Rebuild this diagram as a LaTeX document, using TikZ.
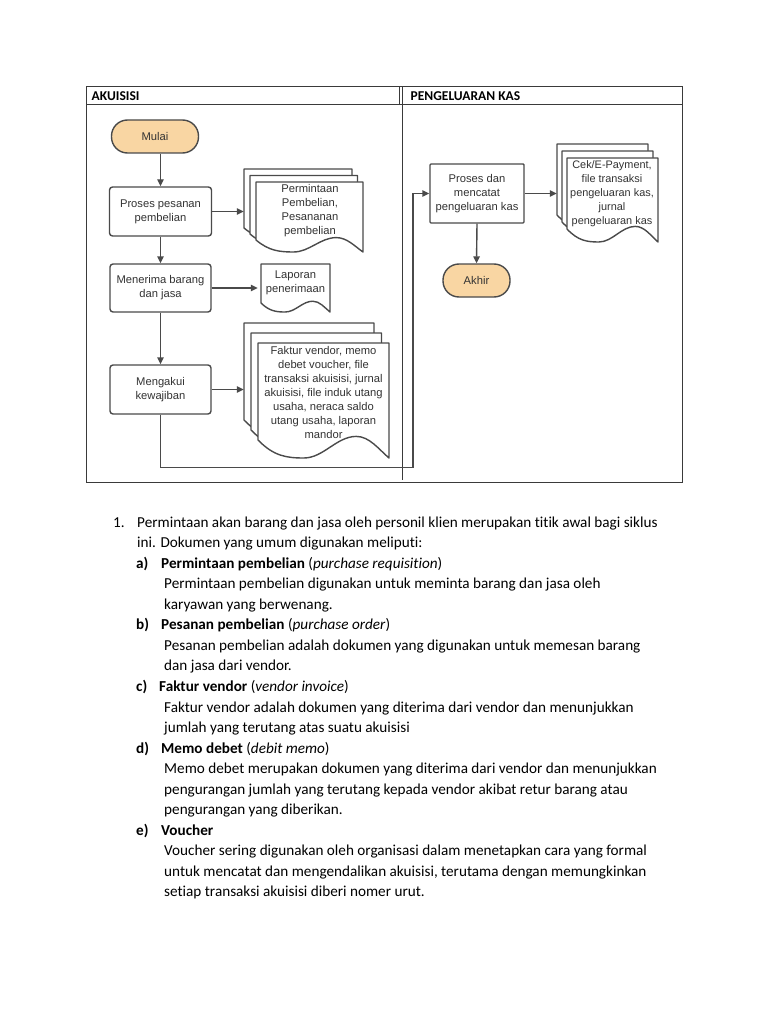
\documentclass[tikz,border=0pt]{standalone}
\usepackage{fontspec}
\setmainfont{Carlito}[Ligatures=NoCommon]
\newfontfamily\arialf{Liberation Sans}
\usetikzlibrary{arrows.meta}
\definecolor{ln}{HTML}{4A4A4A}
\definecolor{tx}{HTML}{333333}
\definecolor{termc}{HTML}{F9D6A3}
\definecolor{framec}{HTML}{3A3A3A}
\newcommand\docsheet[5]{% x1, ytop, x2, yL, d
  \pgfmathsetmacro\dw{#3-#1}
  \filldraw[docsh] (#1,#2) -- (#3,#2) -- (#3,#4+#5)
    .. controls (#1+0.92*\dw,#4+0.5*#5) and (#1+0.85*\dw,#4-0.2*#5) .. (#1+0.75*\dw,#4-0.2*#5)
    .. controls (#1+0.6*\dw,#4-0.2*#5) and (#1+0.5*\dw,#4+#5) .. (#1+0.35*\dw,#4+#5)
    .. controls (#1+0.22*\dw,#4+#5) and (#1+0.12*\dw,#4+0.9*#5) .. (#1,#4) -- cycle;
}
\tikzset{
  box/.style={draw=ln, line width=1.4pt, fill=white, rounded corners=3pt,
    font=\arialf\fontsize{11.2}{14}\selectfont, text=tx, align=center, inner sep=0pt},
  termbox/.style={box, fill=termc, rounded corners=16pt},
  docsh/.style={draw=ln, line width=1.4pt, fill=white, line join=round},
  doctext/.style={font=\arialf\fontsize{11.2}{14}\selectfont, text=tx, align=center, inner sep=0pt},
  inv/.style={draw=none, inner sep=0pt},
  arr/.style={draw=ln, line width=1.4pt, -{Triangle[length=7pt,width=6.5pt]}},
  body/.style={anchor=base west, inner sep=0pt, font=\fontsize{15.2}{18}\selectfont},
  hdr/.style={anchor=base west, inner sep=0pt, font=\bfseries\fontsize{13.5}{16}\selectfont},
  frm/.style={draw=framec, line width=1pt},
}
\begin{document}
\begin{tikzpicture}[x=1pt, y=-1pt]
\useasboundingbox[fill=white] (0,0) rectangle (768,1024);

% table frame
\draw[frm] (86,87) rectangle (682,482.5);
\draw[frm] (86,104.5) -- (682,104.5);
\draw[frm] (402,87) -- (402,480);
\draw[frm] (399.5,87) -- (399.5,104.5);
\node[hdr] (h1) at (91.5,100.5) {AKUISISI};
\node[hdr] (h2) at (410.5,100.5) {PENGELUARAN KAS};

% document stacks
\docsheet{244}{169}{352}{228}{12}
\docsheet{250}{175.5}{357.5}{234}{12}
\docsheet{256}{182}{363}{240}{12}
\node[inv, minimum width=108pt, minimum height=83pt] (st1) at (298,210.5) {};
\node[doctext] (t1) at (310,210.5) {Permintaan\\Pembelian,\\Pesananan\\pembelian};

\docsheet{261}{264}{330}{303}{9}
\node[inv, minimum width=69pt, minimum height=48pt] (lap) at (295.5,288) {};
\node[doctext] (t2) at (295.5,283) {Laporan\\penerimaan};

\docsheet{244}{323}{374}{420}{18}
\docsheet{251}{333}{381.5}{430}{18}
\docsheet{258}{343}{389}{440}{18}
\node[inv, minimum width=130pt, minimum height=115pt] (st3) at (309,380) {};
\node[doctext] (t3) at (323.5,392) {Faktur vendor, memo\\debet voucher, file\\transaksi akuisisi, jurnal\\akuisisi, file induk utang\\usaha, neraca saldo\\utang usaha, laporan\\mandor};

\docsheet{557}{144}{648}{215}{13}
\docsheet{562}{151}{653}{222}{13}
\docsheet{567}{158}{658}{229}{13}
\node[inv, minimum width=91pt, minimum height=84pt] (st2) at (602.5,186) {};
\node[doctext, font=\arialf\fontsize{10.9}{14}\selectfont] (t4) at (612,194) {Cek/E-Payment,\\file transaksi\\pengeluaran kas,\\jurnal\\pengeluaran kas};

% process nodes
\node[termbox, minimum width=87pt, minimum height=33pt] (mulai) at (155,136.5) {Mulai};
\node[box, minimum width=102pt, minimum height=49pt] (p1) at (160.5,211.5) {Proses pesanan\\pembelian};
\node[box, minimum width=101pt, minimum height=48pt] (p2) at (160.5,288) {Menerima barang\\dan jasa};
\node[box, minimum width=101pt, minimum height=49pt] (p3) at (160.5,389.5) {Mengakui\\kewajiban};
\node[box, rounded corners=1pt, minimum width=94pt, minimum height=59pt] (p4) at (477,193.5) {Proses dan\\mencatat\\pengeluaran kas};
\node[termbox, minimum width=67pt, minimum height=33pt] (akhir) at (476.5,280.5) {Akhir};

% connectors
\draw[arr] (p1.north |- mulai.south) -- (p1.north);
\draw[arr] (p1.south) -- (p2.north);
\draw[arr] (p2.south) -- (p3.north);
\draw[arr] (p1.east) -- (p1.east -| st1.west);
\draw[arr] (p2.east) -- ([xshift=-3pt]p2.east -| lap.west);
\draw[arr] (p3.east) -- (p3.east -| st3.west);
\coordinate (c1) at (413,467.5);
\draw[arr] (p3.south) |- (c1) |- (p4.west);
\draw[arr] (p4.east) -- (p4.east -| st2.west);
\draw[arr] (p4.south) -- (akhir.north);

% body text
\node[body] (n1) at (113,527) {1.};
\node[body] (b0) at (137,527) {Permintaan akan barang dan jasa oleh personil klien merupakan titik awal bagi siklus};
\node[body] (b1) at (137,547.6) {ini. Dokumen yang umum digunakan meliputi:};
\node[body] (la) at (136,568.1) {\textbf{a)}};
\node[body] (b2) at (161,568.1) {\textbf{Permintaan pembelian} (\textit{purchase requisition})};
\node[body] (b3) at (164,588.7) {Permintaan pembelian digunakan untuk meminta barang dan jasa oleh};
\node[body] (b4) at (164,609.2) {karyawan yang berwenang.};
\node[body] (lb) at (136,629.8) {\textbf{b)}};
\node[body] (b5) at (161,629.8) {\textbf{Pesanan pembelian} (\textit{purchase order})};
\node[body] (b6) at (164,650.3) {Pesanan pembelian adalah dokumen yang digunakan untuk memesan barang};
\node[body] (b7) at (164,670.9) {dan jasa dari vendor.};
\node[body] (lc) at (136,691.4) {\textbf{c)}};
\node[body] (b8) at (159,691.4) {\textbf{Faktur vendor} (\textit{vendor invoice})};
\node[body] (b9) at (164,712) {Faktur vendor adalah dokumen yang diterima dari vendor dan menunjukkan};
\node[body] (b10) at (164,732.5) {jumlah yang terutang atas suatu akuisisi};
\node[body] (ld) at (136,753.1) {\textbf{d)}};
\node[body] (b11) at (161,753.1) {\textbf{Memo debet} (\textit{debit memo})};
\node[body] (b12) at (164,773.6) {Memo debet merupakan dokumen yang diterima dari vendor dan menunjukkan};
\node[body] (b13) at (164,794.2) {pengurangan jumlah yang terutang kepada vendor akibat retur barang atau};
\node[body] (b14) at (164,814.7) {pengurangan yang diberikan.};
\node[body] (le) at (136,835.3) {\textbf{e)}};
\node[body] (b15) at (161,835.3) {\textbf{Voucher}};
\node[body] (b16) at (164,855.8) {Voucher sering digunakan oleh organisasi dalam menetapkan cara yang formal};
\node[body] (b17) at (164,876.4) {untuk mencatat dan mengendalikan akuisisi, terutama dengan memungkinkan};
\node[body] (b18) at (164,896.9) {setiap transaksi akuisisi diberi nomer urut.};
\end{tikzpicture}
\end{document}
